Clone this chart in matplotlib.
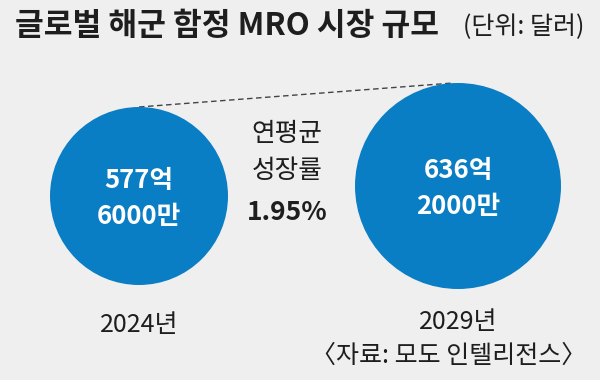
import matplotlib.pyplot as plt
from matplotlib.patches import Circle

plt.rcParams['font.family'] = ['Noto Sans CJK KR', 'DejaVu Sans']

# data
years = ['2024년', '2029년']
market_eok = [577, 636]
market_man = [6000, 2000]
cagr = 1.95

# layout (pixel space of the 600x380 canvas)
centers_x = [139, 458]
centers_y = [196, 186]
radii = [89, 103]

blue = '#0a7ec4'
bg = '#efefef'
ink = '#1e1e1e'

fig = plt.figure(figsize=(6, 3.8), dpi=100, facecolor=bg)
ax = fig.add_axes([0, 0, 1, 1])
ax.set_xlim(0, 600)
ax.set_ylim(380, 0)
ax.set_aspect('equal')
ax.axis('off')

# dashed line linking the tops of the circles
ax.plot([centers_x[0], centers_x[1] - 5],
        [centers_y[0] - radii[0], centers_y[1] - radii[1]],
        ls=(0, (4, 2.5)), lw=1, color='#444444', zorder=1)

for i in range(len(years)):
    ax.add_patch(Circle((centers_x[i], centers_y[i]), radii[i],
                        facecolor=blue, edgecolor='none', zorder=2))
    ax.text(centers_x[i], centers_y[i] - 15, f'{market_eok[i]}억',
            ha='center', va='center', color='white', fontsize=18.5,
            fontweight='bold', zorder=3)
    ax.text(centers_x[i], centers_y[i] + 21, f'{market_man[i]}만',
            ha='center', va='center', color='white', fontsize=18.5,
            fontweight='bold', zorder=3)

ax.text(centers_x[0], 325, years[0], ha='center', va='center',
        fontsize=18, color=ink)
ax.text(centers_x[1], 322, years[1], ha='center', va='center',
        fontsize=18, color=ink)

# growth annotation
ax.text(287, 134, '연평균', ha='center', va='center', fontsize=18.5, color=ink)
ax.text(287, 171, '성장률', ha='center', va='center', fontsize=18.5, color=ink)
ax.text(287, 213, f'{cagr}%', ha='center', va='center', fontsize=19,
        fontweight='bold', color=ink)

# title
ax.text(15, 26, '글로벌 해군 함정 MRO 시장 규모', ha='left', va='center',
        fontsize=22.5, fontweight='bold', color=ink)
ax.text(584, 27, '(단위: 달러)', ha='right', va='center', fontsize=18,
        color=ink)

# source
ax.text(586, 356, '〈자료: 모도 인텔리전스〉', ha='right', va='center',
        fontsize=18, color=ink)

fig.savefig('out.png', dpi=100, facecolor=bg)
